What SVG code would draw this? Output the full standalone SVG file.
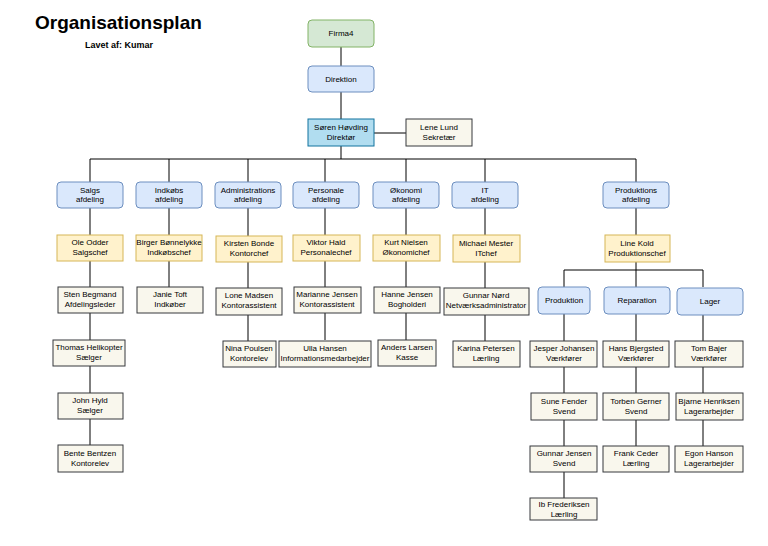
<svg xmlns="http://www.w3.org/2000/svg" width="768" height="546" viewBox="0 0 768 546">
<style>
text{font-family:"Liberation Sans",Arial,sans-serif;font-size:8px;fill:#000;text-anchor:middle}
.b{fill:#dae8fc;stroke:#6c8ebf;stroke-width:1}
.g{fill:#d5e8d4;stroke:#82b366;stroke-width:1}
.d{fill:#b1ddf0;stroke:#10739e;stroke-width:1}
.y{fill:#fff2cc;stroke:#d6b656;stroke-width:1}
.p{fill:#f9f7ed;stroke:#36393d;stroke-width:1}
.c path{fill:none;stroke:#000;stroke-width:1}
</style>
<rect width="768" height="546" fill="#fff"/>
<text x="35" y="29" style="font-size:19px;font-weight:bold;text-anchor:start">Organisationsplan</text>
<text x="85" y="48" style="font-size:9px;font-weight:bold;text-anchor:start">Lavet af: Kumar</text>
<g class="c">
<path d="M341 47V66M341 92V119M374 133H406M341 146V159M90 159H636M90 159V182M169 159V182M248 159V182M325 159V182M406 159V182M485 159V182M636 159V182"/>
<path d="M90 208V235M90 261V287M90 313V340M90 366V393M90 419V445"/>
<path d="M169 208V235M169 261V287"/>
<path d="M248 208V236M248 262V288M248 315V341"/>
<path d="M325 208V235M325 261V287M325 313V340"/>
<path d="M406 208V235M406 261V287M406 313V340"/>
<path d="M485 208V235M485 261V288M485 315V341"/>
<path d="M636 208V235M636 262V287M564 287V270H703V287M564 314V341M564 367V393M564 420V446M564 472V498M636 314V341M636 367V393M636 420V446M703 314V341M703 367V393M703 420V446"/>
</g>
<g id="firma"><rect class="g" x="308" y="20" width="66" height="27" rx="4"/><text x="341" y="36">Firma4</text></g>
<g id="direktion"><rect class="b" x="308" y="66" width="66" height="26" rx="4"/><text x="341" y="82">Direktion</text></g>
<g id="soren"><rect class="d" x="308" y="119" width="66" height="27"/><text x="341" y="130">Søren Høvding</text><text x="341" y="140">Direktør</text></g>
<g id="lene"><rect class="p" x="406" y="119" width="66" height="27"/><text x="439" y="130">Lene Lund</text><text x="439" y="140">Sekretær</text></g>

<g id="salgs"><rect class="b" x="57" y="182" width="66" height="26" rx="4"/><text x="90" y="193">Salgs</text><text x="90" y="202">afdeling</text></g>
<g id="indkobs"><rect class="b" x="136" y="182" width="66" height="26" rx="4"/><text x="169" y="193">Indkøbs</text><text x="169" y="202">afdeling</text></g>
<g id="admin"><rect class="b" x="215" y="182" width="66" height="26" rx="4"/><text x="248" y="193">Administrations</text><text x="248" y="202">afdeling</text></g>
<g id="personale"><rect class="b" x="293" y="182" width="66" height="26" rx="4"/><text x="326" y="193">Personale</text><text x="326" y="202">afdeling</text></g>
<g id="okonomi"><rect class="b" x="373" y="182" width="66" height="26" rx="4"/><text x="406" y="193">Økonomi</text><text x="406" y="202">afdeling</text></g>
<g id="it"><rect class="b" x="452" y="182" width="66" height="26" rx="4"/><text x="485" y="193">IT</text><text x="485" y="202">afdeling</text></g>
<g id="produktions"><rect class="b" x="603" y="182" width="66" height="26" rx="4"/><text x="636" y="193">Produktions</text><text x="636" y="202">afdeling</text></g>

<g id="ole"><rect class="y" x="57" y="235" width="66" height="26"/><text x="90" y="245">Ole Odder</text><text x="90" y="255">Salgschef</text></g>
<g id="birger"><rect class="y" x="136" y="235" width="66" height="26"/><text x="169" y="245">Birger Bønnelykke</text><text x="169" y="255">Indkøbschef</text></g>
<g id="kirsten"><rect class="y" x="216" y="236" width="66" height="26"/><text x="249" y="246">Kirsten Bonde</text><text x="249" y="256">Kontorchef</text></g>
<g id="viktor"><rect class="y" x="293" y="235" width="67" height="26"/><text x="326" y="245">Viktor Hald</text><text x="326" y="255">Personalechef</text></g>
<g id="kurt"><rect class="y" x="373" y="235" width="67" height="26"/><text x="406" y="245">Kurt Nielsen</text><text x="406" y="255">Økonomichef</text></g>
<g id="michael"><rect class="y" x="453" y="235" width="67" height="27"/><text x="486" y="246">Michael Mester</text><text x="486" y="256">ITchef</text></g>
<g id="line"><rect class="y" x="605" y="235" width="65" height="27"/><text x="637" y="246">Line Kold</text><text x="637" y="256">Produktionschef</text></g>

<g id="sten"><rect class="p" x="58" y="287" width="65" height="26"/><text x="90" y="297">Sten Begmand</text><text x="90" y="307">Afdelingsleder</text></g>
<g id="janie"><rect class="p" x="137" y="287" width="66" height="26"/><text x="170" y="297">Janie Toft</text><text x="170" y="307">Indkøber</text></g>
<g id="lone"><rect class="p" x="216" y="288" width="66" height="27"/><text x="249" y="298">Lone Madsen</text><text x="249" y="308">Kontorassistent</text></g>
<g id="marianne"><rect class="p" x="294" y="287" width="67" height="26"/><text x="327" y="297">Marianne Jensen</text><text x="327" y="307">Kontorassistent</text></g>
<g id="hanne"><rect class="p" x="374" y="287" width="66" height="26"/><text x="407" y="297">Hanne Jensen</text><text x="407" y="307">Bogholderi</text></g>
<g id="gunnarn"><rect class="p" x="444" y="288" width="85" height="27"/><text x="486" y="298">Gunnar Nørd</text><text x="486" y="308">Netværksadministrator</text></g>

<g id="thomas"><rect class="p" x="53" y="340" width="72" height="26"/><text x="89" y="350">Thomas Helikopter</text><text x="89" y="360">Sælger</text></g>
<g id="nina"><rect class="p" x="223" y="341" width="53" height="26"/><text x="249" y="351">Nina Poulsen</text><text x="249" y="361">Kontorelev</text></g>
<g id="ulla"><rect class="p" x="279" y="341" width="92" height="26"/><text x="325" y="351">Ulla Hansen</text><text x="325" y="361">Informationsmedarbejder</text></g>
<g id="anders"><rect class="p" x="378" y="340" width="58" height="26"/><text x="407" y="350">Anders Larsen</text><text x="407" y="360">Kasse</text></g>
<g id="karina"><rect class="p" x="453" y="341" width="67" height="26"/><text x="486" y="351">Karina Petersen</text><text x="486" y="361">Lærling</text></g>

<g id="john"><rect class="p" x="58" y="393" width="65" height="26"/><text x="90" y="403">John Hyld</text><text x="90" y="413">Sælger</text></g>
<g id="bente"><rect class="p" x="58" y="445" width="65" height="27"/><text x="90" y="456">Bente Bentzen</text><text x="90" y="466">Kontorelev</text></g>

<g id="produktion"><rect class="b" x="538" y="287" width="52" height="27" rx="4"/><text x="564" y="303">Produktion</text></g>
<g id="reparation"><rect class="b" x="604" y="287" width="66" height="27" rx="4"/><text x="637" y="303">Reparation</text></g>
<g id="lager"><rect class="b" x="677" y="288" width="66" height="27" rx="4"/><text x="710" y="304">Lager</text></g>

<g id="jesper"><rect class="p" x="530" y="341" width="67" height="26"/><text x="564" y="351">Jesper Johansen</text><text x="564" y="361">Værkfører</text></g>
<g id="sune"><rect class="p" x="531" y="393" width="66" height="27"/><text x="564" y="404">Sune Fender</text><text x="564" y="414">Svend</text></g>
<g id="gunnarj"><rect class="p" x="530" y="446" width="67" height="26"/><text x="564" y="456">Gunnar Jensen</text><text x="564" y="466">Svend</text></g>
<g id="ib"><rect class="p" x="530" y="498" width="67" height="22"/><text x="564" y="507">Ib Frederiksen</text><text x="564" y="517">Lærling</text></g>

<g id="hans"><rect class="p" x="603" y="341" width="66" height="26"/><text x="636" y="351">Hans Bjergsted</text><text x="636" y="361">Værkfører</text></g>
<g id="torben"><rect class="p" x="603" y="393" width="66" height="27"/><text x="636" y="404">Torben Gerner</text><text x="636" y="414">Svend</text></g>
<g id="frank"><rect class="p" x="603" y="446" width="66" height="26"/><text x="636" y="456">Frank Ceder</text><text x="636" y="466">Lærling</text></g>

<g id="tom"><rect class="p" x="675" y="341" width="68" height="26"/><text x="709" y="351">Tom Bajer</text><text x="709" y="361">Værkfører</text></g>
<g id="bjarne"><rect class="p" x="676" y="393" width="67" height="27"/><text x="709" y="404">Bjarne Henriksen</text><text x="709" y="414">Lagerarbejder</text></g>
<g id="egon"><rect class="p" x="675" y="446" width="68" height="26"/><text x="709" y="456">Egon Hanson</text><text x="709" y="466">Lagerarbejder</text></g>
</svg>
